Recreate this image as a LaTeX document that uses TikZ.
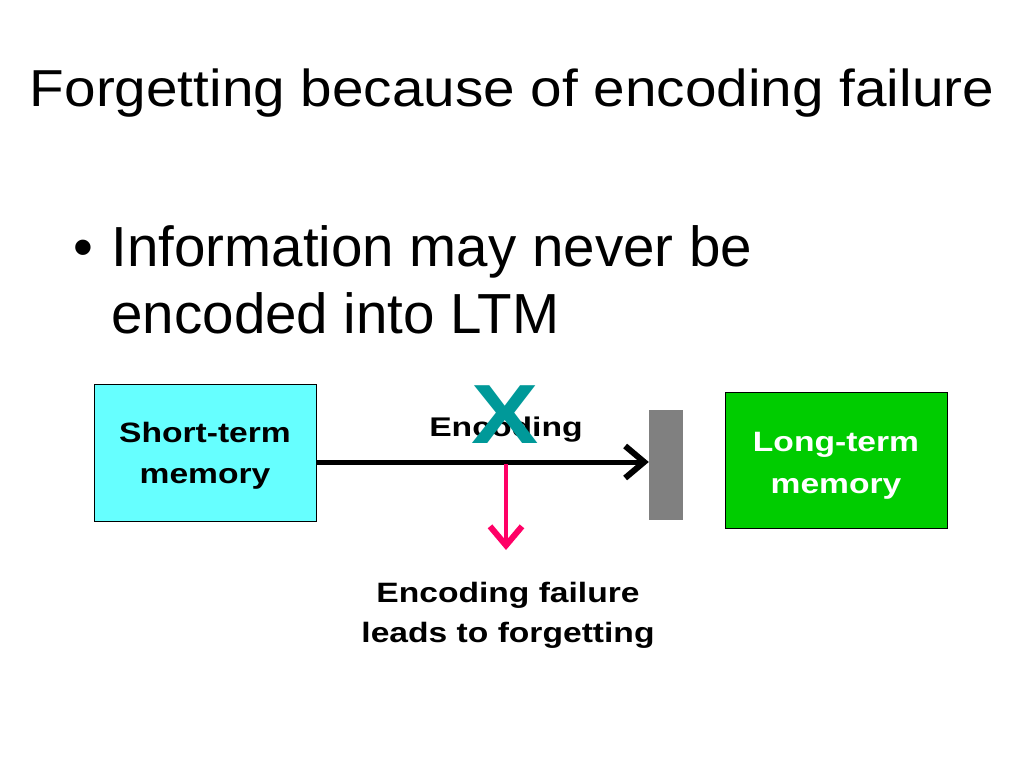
\documentclass[tikz,border=0pt]{standalone}
\usepackage{fontspec}
\setmainfont{Liberation Sans}
\usetikzlibrary{arrows.meta}
\definecolor{stmcyan}{HTML}{66FFFF}
\definecolor{ltmgreen}{HTML}{00CC00}
\definecolor{xteal}{HTML}{009999}
\definecolor{failpink}{HTML}{FF0066}
\definecolor{bargray}{HTML}{808080}
\tikzset{
  membox/.style={draw=black, line width=1pt, inner sep=0pt},
  boldtext/.style={font=\fontsize{28}{34}\selectfont\bfseries, xscale=1.2, anchor=base},
  bodytext/.style={font=\fontsize{56.5}{66}\selectfont, anchor=base west},
  vtip/.style={-{Straight Barb[length=19pt,width=32pt,line width=6pt]}},
}
\begin{document}
\begin{tikzpicture}[x=1pt,y=-1pt]
\useasboundingbox[fill=white] (0,0) rectangle (1024,768);
% title
\node[anchor=base, font=\fontsize{52}{60}\selectfont, xscale=1.09] (title) at (512,106) {Forgetting because of encoding failure};
% bullet
\node[bodytext] (bul) at (70,266) {•};
\node[bodytext] (l1) at (108,266) {Information may never be};
\node[bodytext] (l2) at (108,333) {encoded into LTM};
% boxes
\node[membox, fill=stmcyan, minimum width=222pt, minimum height=137pt] (stm) at (205,452.5) {};
\node[boldtext] (stmt1) at (205,442) {Short-term};
\node[boldtext] (stmt2) at (205,483) {memory};
\node[membox, fill=ltmgreen, minimum width=222pt, minimum height=136pt] (ltm) at (836,460) {};
\node[boldtext, text=white] (ltmt1) at (836,451) {Long-term};
\node[boldtext, text=white] (ltmt2) at (836,493) {memory};
% gray bar
\node[fill=bargray, minimum width=34pt, minimum height=110pt, inner sep=0pt] (bar) at (666,465) {};
% encoding label
\node[boldtext, font=\fontsize{27}{34}\selectfont\bfseries, xscale=1.04] (enc) at (506,436) {Encoding};
\node[anchor=base, text=xteal, font=\fontsize{84}{90}\selectfont\bfseries, xscale=1.2] (x) at (505,443) {X};
% arrows
\coordinate (arrstart) at (317,462);
\draw[line width=5pt, vtip] (arrstart) -- (bar.west |- arrstart);
\coordinate (pinkstart) at (506,464);
\coordinate (pinkend) at (506,550);
\draw[failpink, line width=4pt, vtip] (pinkstart) -- (pinkend);
% failure text
\node[boldtext] (f1) at (508,602) {Encoding failure};
\node[boldtext] (f2) at (508,642) {leads to forgetting};
\end{tikzpicture}
\end{document}
